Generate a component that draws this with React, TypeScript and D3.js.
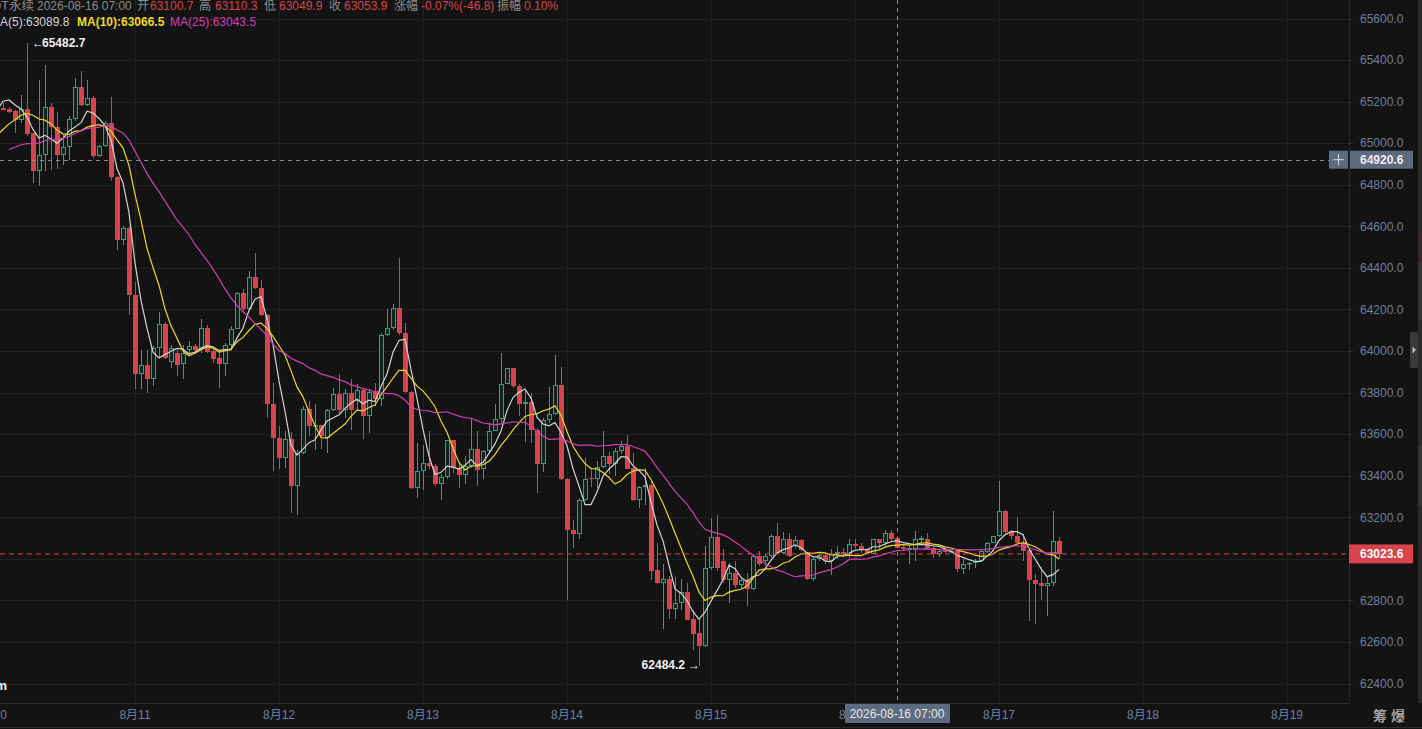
import React from "react";
import * as d3 from "d3";

// hourly candles; the first one drawn opens 2026-08-10 02:00
const firstCandle = "2026-08-10T02:00";

const opens = [
  65170, 65165, 65154, 65111, 65165, 65047, 64865, 64942, 65175, 65077, 64942, 64982,
  65117, 65271, 65183, 65218, 64937, 64986, 65098, 64838, 64533, 64593, 64269, 63887,
  63935, 63866, 64015, 64131, 63946, 63991, 63938, 64004, 64026, 64010, 64112, 63999,
  63964, 63938, 64028, 64107, 64280, 64200, 64357, 64304, 64172, 63747, 63582, 63483,
  63577, 63350, 63507, 63722, 63638, 63642, 63582, 63718, 63795, 63718, 63799, 63758,
  63810, 63686, 63807, 63767, 64079, 64111, 64208, 64087, 63802, 63342, 63422, 63462,
  63446, 63358, 63393, 63571, 63438, 63401, 63446, 63529, 63430, 63518, 63617, 63673,
  63842, 63916, 63831, 63743, 63755, 63622, 63457, 63667, 63698, 63834, 63385, 63141,
  63117, 63282, 63390, 63385, 63442, 63497, 63454, 63518, 63545, 63438, 63285, 63346,
  63357, 62944, 62884, 62904, 62759, 62788, 62839, 62708, 62641, 62580, 62956, 63106,
  62988, 62897, 62932, 62872, 62900, 62855, 63013, 62989, 63013, 63112, 63029, 63093,
  63061, 63090, 63029, 62905, 62997, 63016, 62989, 63021, 63032, 63025, 63069, 63064,
  63045, 63025, 63093, 63074, 63122, 63100.7, 63056, 63045, 63048, 63090, 63096, 63053,
  63025, 63045, 63032, 63037, 62953, 62973, 62981, 62989, 63032, 63077, 63109, 63229,
  63128, 63112, 63080, 63041, 62900, 62884, 62871, 62884, 63085,
];

const highs = [
  65194, 65172, 65162, 65231, 65482.7, 65050, 65302, 65375, 65194, 65151, 65042, 65130,
  65314, 65347, 65306, 65226, 64989, 65106, 65223, 64840, 64601, 64600, 64331, 64007,
  64007, 64023, 64188, 64140, 64031, 64007, 64031, 64047, 64036, 64152, 64123, 64020,
  63999, 64039, 64120, 64285, 64296, 64384, 64472, 64344, 64180, 63847, 63638, 63614,
  63609, 63526, 63734, 63759, 63746, 63646, 63722, 63823, 63887, 63815, 63863, 63839,
  63823, 63815, 63847, 64087, 64200, 64224, 64448, 64135, 63807, 63555, 63550, 63614,
  63454, 63406, 63571, 63574, 63462, 63494, 63678, 63614, 63526, 63654, 63743, 63991,
  63919, 63919, 63839, 63807, 63799, 63630, 63678, 63827, 63983, 63922, 63390, 63189,
  63293, 63486, 63430, 63470, 63614, 63513, 63534, 63569, 63598, 63510, 63349, 63438,
  63374, 63077, 62973, 62917, 62913, 62904, 62884, 62756, 62708, 63061, 63197, 63213,
  63048, 62981, 62989, 62908, 62932, 63021, 63037, 63021, 63117, 63170, 63128, 63122,
  63112, 63096, 63032, 63005, 63029, 63021, 63045, 63061, 63053, 63096, 63096, 63077,
  63053, 63096, 63096, 63141, 63141, 63110.3, 63061, 63061, 63133, 63109, 63122, 63061,
  63045, 63053, 63040, 63042, 63000, 62984, 62997, 63045, 63080, 63112, 63373, 63234,
  63141, 63202, 63117, 63048, 62929, 62961, 62916, 63229, 63104,
];

const lows = [
  65159, 65145, 65047, 65095, 65034, 64809, 64796, 64865, 64873, 64878, 64893, 64921,
  65106, 65178, 65178, 64929, 64934, 64982, 64817, 64485, 64512, 64172, 63815, 63815,
  63800, 63830, 63967, 63960, 63919, 63879, 63863, 63975, 64002, 63991, 63990, 63940,
  63823, 63879, 64007, 64104, 64192, 64196, 64296, 64168, 63678, 63422, 63432, 63438,
  63221, 63213, 63502, 63593, 63526, 63529, 63507, 63710, 63702, 63678, 63622, 63718,
  63577, 63606, 63735, 63735, 64071, 64103, 64079, 63799, 63334, 63293, 63333, 63430,
  63350, 63285, 63382, 63414, 63342, 63358, 63438, 63350, 63382, 63510, 63614, 63654,
  63839, 63823, 63686, 63561, 63558, 63317, 63417, 63654, 63694, 63381, 62804, 63053,
  63093, 63277, 63346, 63342, 63438, 63410, 63398, 63502, 63430, 63277, 63245, 63261,
  62900, 62881, 62663, 62711, 62711, 62756, 62704, 62560, 62484.2, 62577, 62948, 62940,
  62884, 62785, 62860, 62855, 62772, 62849, 62965, 62965, 63005, 63021, 63021, 63010,
  63053, 63037, 62900, 62892, 62989, 62973, 62924, 62997, 63013, 63004, 63045, 63029,
  63021, 63021, 63045, 63061, 63085, 63049.9, 63037, 62973, 62989, 63077, 63045, 63005,
  63010, 63026, 63026, 62935, 62929, 62945, 62956, 62984, 63029, 63074, 63106, 63117,
  63093, 63074, 62989, 62700, 62684, 62804, 62724, 62871, 63000,
];

const closes = [
  65162, 65149, 65111, 65165, 65042, 64865, 64942, 65175, 65077, 64942, 64982, 65117,
  65271, 65183, 65218, 64937, 64986, 65098, 64838, 64533, 64593, 64269, 63887, 63935,
  63866, 64015, 64131, 63967, 64015, 63935, 63991, 64026, 64007, 64112, 63994, 63962,
  63938, 64028, 64107, 64280, 64200, 64357, 64304, 64171, 63743, 63579, 63483, 63577,
  63350, 63507, 63722, 63638, 63646, 63590, 63718, 63795, 63718, 63799, 63718, 63810,
  63686, 63803, 63767, 64079, 64111, 64208, 64087, 63802, 63342, 63422, 63462, 63446,
  63358, 63393, 63571, 63438, 63401, 63446, 63529, 63427, 63518, 63617, 63673, 63842,
  63916, 63831, 63743, 63755, 63622, 63457, 63667, 63698, 63834, 63382, 63138, 63117,
  63282, 63385, 63382, 63442, 63497, 63454, 63518, 63545, 63433, 63285, 63346, 63357,
  62941, 62884, 62904, 62759, 62788, 62839, 62705, 62636, 62580, 62956, 63106, 62956,
  62897, 62932, 62872, 62896, 62855, 63013, 62973, 63013, 63112, 63029, 63093, 63013,
  63090, 63041, 62905, 62997, 63016, 62989, 63021, 63032, 63021, 63069, 63061, 63041,
  63026, 63093, 63074, 63122, 63096, 63053.9, 63045, 63050, 63093, 63098, 63048, 63025,
  63037, 63032, 63037, 62953, 62976, 62981, 62989, 63037, 63077, 63109, 63229, 63128,
  63109, 63077, 63037, 62897, 62881, 62871, 62884, 63085, 63023.6,
];

// closes of the hours before the first drawn candle (off screen, only feed the MAs)
const earlierCloses = [
  64850, 64870, 64905, 64880, 64860, 64900, 64920, 64890, 64875, 64905, 64930, 64880,
  64900, 64880, 64880, 64910, 64950, 64960, 64950, 65120, 65230, 65260, 65238,
];

const dayTicks = [
  "2026-08-10", "2026-08-11", "2026-08-12", "2026-08-13", "2026-08-14",
  "2026-08-15", "2026-08-16", "2026-08-17", "2026-08-18", "2026-08-19",
];
const priceTicks = [
  62400, 62600, 62800, 63000, 63200, 63400, 63600, 63800, 64000,
  64200, 64400, 64600, 64800, 65000, 65200, 65400, 65600,
];
const maPeriods = [5, 10, 25];

const lastPrice = 63023.6;
const cursorTime = "2026-08-16T07:00";
const cursorPrice = 64920.6;
const headerValues = ["63100.7", "63110.3", "63049.9", "63053.9", "-0.07%(-46.8)", "0.10%"];
const maReadout = ["63089.8", "63066.5", "63043.5"];

const W = 1422;
const H = 729;
const plotR = 1349;
const plotB = 703;
const FONT = "'Liberation Sans', Arial, 'Noto Sans CJK SC', sans-serif";
const UP = "#2aa67f";
const DOWN = "#d9434b";
const MA_COLORS = ["#d4d4d4", "#ecd923", "#d33fb3"];
const AXIS_TEXT = "#6e7f9e";
const GRID = "#202020";
const BORDER = "#2b2b2b";

const parseMin = d3.timeParse("%Y-%m-%dT%H:%M");
const parseDay = d3.timeParse("%Y-%m-%d");
const dayFmt = d3.timeFormat("%-m月%-d");

export default function App() {
  const x = d3
    .scaleTime()
    .domain([parseDay("2026-08-11")!, parseDay("2026-08-16")!])
    .range([135, 855]);
  const y = d3.scaleLinear().domain([62400, 65600]).range([683.5, 18.5]);

  const t0 = parseMin(firstCandle)!;
  const timeAt = (k: number) => d3.timeHour.offset(t0, k);

  const allCloses = [...earlierCloses, ...closes];
  const shift = earlierCloses.length;
  const maLines = maPeriods.map((n) => {
    const pts: [number, number][] = [];
    for (let k = n - 1; k < allCloses.length; k++) {
      const v = d3.mean(allCloses.slice(k - n + 1, k + 1))!;
      pts.push([x(timeAt(k - shift)), y(v)]);
    }
    return d3.line()(pts)!;
  });

  const lowIdx = d3.minIndex(lows);
  const highIdx = d3.maxIndex(highs);
  const cx = x(parseMin(cursorTime)!);
  const cy = y(cursorPrice);
  const ly = y(lastPrice);

  const headerItems: [number, string, string][] = [
    [137, "开", "#8b8b8b"], [150, headerValues[0], DOWN],
    [199, "高", "#8b8b8b"], [215, headerValues[1], DOWN],
    [264, "低", "#8b8b8b"], [279, headerValues[2], DOWN],
    [329, "收", "#8b8b8b"], [344, headerValues[3], DOWN],
    [394, "涨幅", "#8b8b8b"], [421, headerValues[4], DOWN],
    [497, "振幅", "#8b8b8b"], [524, headerValues[5], DOWN],
  ];

  const hx = x(timeAt(highIdx));
  const lx = x(timeAt(lowIdx));

  return (
    <div style={{ position: "fixed", left: 0, top: 0, width: W, height: H, background: "#131313" }}>
      <svg width={W} height={H} style={{ display: "block", fontFamily: FONT }}>
        <defs>
          <clipPath id="plot">
            <rect x={0} y={0} width={plotR} height={plotB} />
          </clipPath>
        </defs>
        <rect width={W} height={H} fill="#131313" />

        {/* grid */}
        {priceTicks.map((p) => (
          <line key={p} x1={0} x2={plotR} y1={Math.round(y(p)) + 0.5} y2={Math.round(y(p)) + 0.5} stroke={GRID} />
        ))}
        {dayTicks.map((d) => {
          const px = Math.round(x(parseDay(d)!)) + 0.5;
          return <line key={d} x1={px} x2={px} y1={0} y2={plotB} stroke={GRID} />;
        })}

        {/* candles */}
        <g clipPath="url(#plot)">
          {closes.map((c, k) => {
            const o = opens[k];
            const px = Math.round(x(timeAt(k)));
            const top = Math.round(y(Math.max(o, c)));
            const bh = Math.max(1, Math.round(y(Math.min(o, c))) - top);
            const yh = Math.round(y(highs[k]));
            const yl = Math.round(y(lows[k]));
            if (c >= o) {
              return (
                <g key={k}>
                  <rect x={px} y={yh} width={1} height={Math.max(0, top - yh)} fill={UP} />
                  <rect x={px} y={top + bh} width={1} height={Math.max(0, yl - top - bh)} fill={UP} />
                  <rect x={px - 1.5} y={top + 0.5} width={4} height={Math.max(0.5, bh - 1)} fill="#10231d" stroke={UP} strokeWidth={1} />
                </g>
              );
            }
            return (
              <g key={k}>
                <rect x={px} y={yh} width={1} height={Math.max(1, yl - yh)} fill={DOWN} />
                <rect x={px - 2} y={top} width={5} height={bh} fill={DOWN} />
              </g>
            );
          })}
          {maLines.map((d, i) => (
            <path key={i} d={d} fill="none" stroke={MA_COLORS[i]} strokeWidth={1.2} />
          ))}
        </g>

        {/* last price line */}
        <line x1={0} x2={plotR} y1={ly} y2={ly} stroke={DOWN} strokeDasharray="5 4" />

        {/* crosshair */}
        <line x1={Math.round(cx) + 0.5} x2={Math.round(cx) + 0.5} y1={0} y2={plotB} stroke="#8a8a8a" strokeDasharray="4 4" />
        <line x1={0} x2={1329} y1={Math.round(cy) + 0.5} y2={Math.round(cy) + 0.5} stroke="#8a8a8a" strokeDasharray="4 4" />

        {/* high / low markers */}
        <text x={hx + 5} y={46.5} fill="#f0f0f0" fontSize={12}>←</text>
        <text x={hx + 15} y={46.5} fill="#f0f0f0" fontSize={12} fontWeight={600}>{highs[highIdx]}</text>
        <text x={lx - 14} y={669} fill="#f0f0f0" fontSize={12} fontWeight={600} textAnchor="end">{lows[lowIdx]}</text>
        <text x={lx - 11} y={669} fill="#f0f0f0" fontSize={12}>→</text>

        {/* header */}
        <text x={34} y={9.5} fill="#8b8b8b" fontSize={12.5} textAnchor="end">BTCUSDT永续</text>
        <text x={37} y={9.5} fill="#8b8b8b" fontSize={12}>2026-08-16 07:00</text>
        {headerItems.map(([tx, s, col], i) => (
          <text key={i} x={tx} y={9.5} fill={col} fontSize={12}>{s}</text>
        ))}
        <text x={-10} y={26} fill={MA_COLORS[0]} fontSize={12} fontWeight={500}>{`MA(5):${maReadout[0]}`}</text>
        <text x={77} y={26} fill={MA_COLORS[1]} fontSize={12} fontWeight={600}>{`MA(10):${maReadout[1]}`}</text>
        <text x={170} y={26} fill={MA_COLORS[2]} fontSize={12} fontWeight={500}>{`MA(25):${maReadout[2]}`}</text>

        {/* axes frame */}
        <line x1={plotR + 0.5} x2={plotR + 0.5} y1={0} y2={plotB} stroke={BORDER} />
        <line x1={0} x2={plotR} y1={plotB + 0.5} y2={plotB + 0.5} stroke={BORDER} />
        <line x1={0} x2={W} y1={727.5} y2={727.5} stroke={BORDER} />

        {/* right price axis (labels under the price tags are hidden, as on the original) */}
        {priceTicks.map((p) => (
          <g key={p}>
            <line x1={plotR} x2={plotR + 4} y1={Math.round(y(p)) + 0.5} y2={Math.round(y(p)) + 0.5} stroke="#333" />
            {Math.abs(y(p) - ly) > 14 && Math.abs(y(p) - cy) > 14 && (
              <text x={1360} y={y(p) + 4.3} fill={AXIS_TEXT} fontSize={12}>{p.toFixed(1)}</text>
            )}
          </g>
        ))}

        {/* bottom time axis */}
        {dayTicks.map((d) => (
          <text key={d} x={x(parseDay(d)!)} y={718.5} fill={AXIS_TEXT} fontSize={12} textAnchor="middle">
            {dayFmt(parseDay(d)!)}
          </text>
        ))}

        {/* crosshair labels */}
        <rect x={cx - 52} y={704} width={105} height={19} fill="#5d6b80" />
        <text x={cx} y={718} fill="#e6e6e6" fontSize={12} textAnchor="middle">2026-08-16 07:00</text>
        <rect x={1329} y={cy - 9} width={19} height={18} fill="#5d6b80" />
        <path d={`M1333,${cy}H1344M1338.5,${cy - 5.5}V${cy + 5.5}`} stroke="#d8d8d8" strokeWidth={1} />
        <rect x={1350} y={cy - 9} width={63} height={18} fill="#5d6b80" />
        <text x={1360} y={cy + 4.3} fill="#eeeeee" fontSize={12} fontWeight={600}>{cursorPrice.toFixed(1)}</text>

        {/* last price label */}
        <rect x={1349} y={ly - 9.5} width={64} height={19} fill={DOWN} />
        <text x={1360} y={ly + 4.3} fill="#ffffff" fontSize={12} fontWeight={700}>{lastPrice.toFixed(1)}</text>

        {/* right edge bits */}
        <rect x={1418} y={0} width={4} height={plotB} fill="#2a2a2a" />
        <rect x={1418} y={232} width={4} height={30} fill="#3a2626" />
        <rect x={1418} y={262} width={4} height={58} fill="#343434" />
        <rect x={1418} y={445} width={4} height={60} fill="#343434" />
        <rect x={1410} y={332} width={8} height={36} rx={2} fill="#3a3a3a" />
        <path d="M1412.5,346.5L1416,350L1412.5,353.5Z" fill="#bbbbbb" />

        <text x={7} y={690} fill="#f2f2f2" fontSize={13} fontWeight={700} textAnchor="end">m</text>
        <text x={1373} y={721} fill="#a3a3a3" fontSize={14} fontWeight={700}>筹 爆</text>
      </svg>
    </div>
  );
}
